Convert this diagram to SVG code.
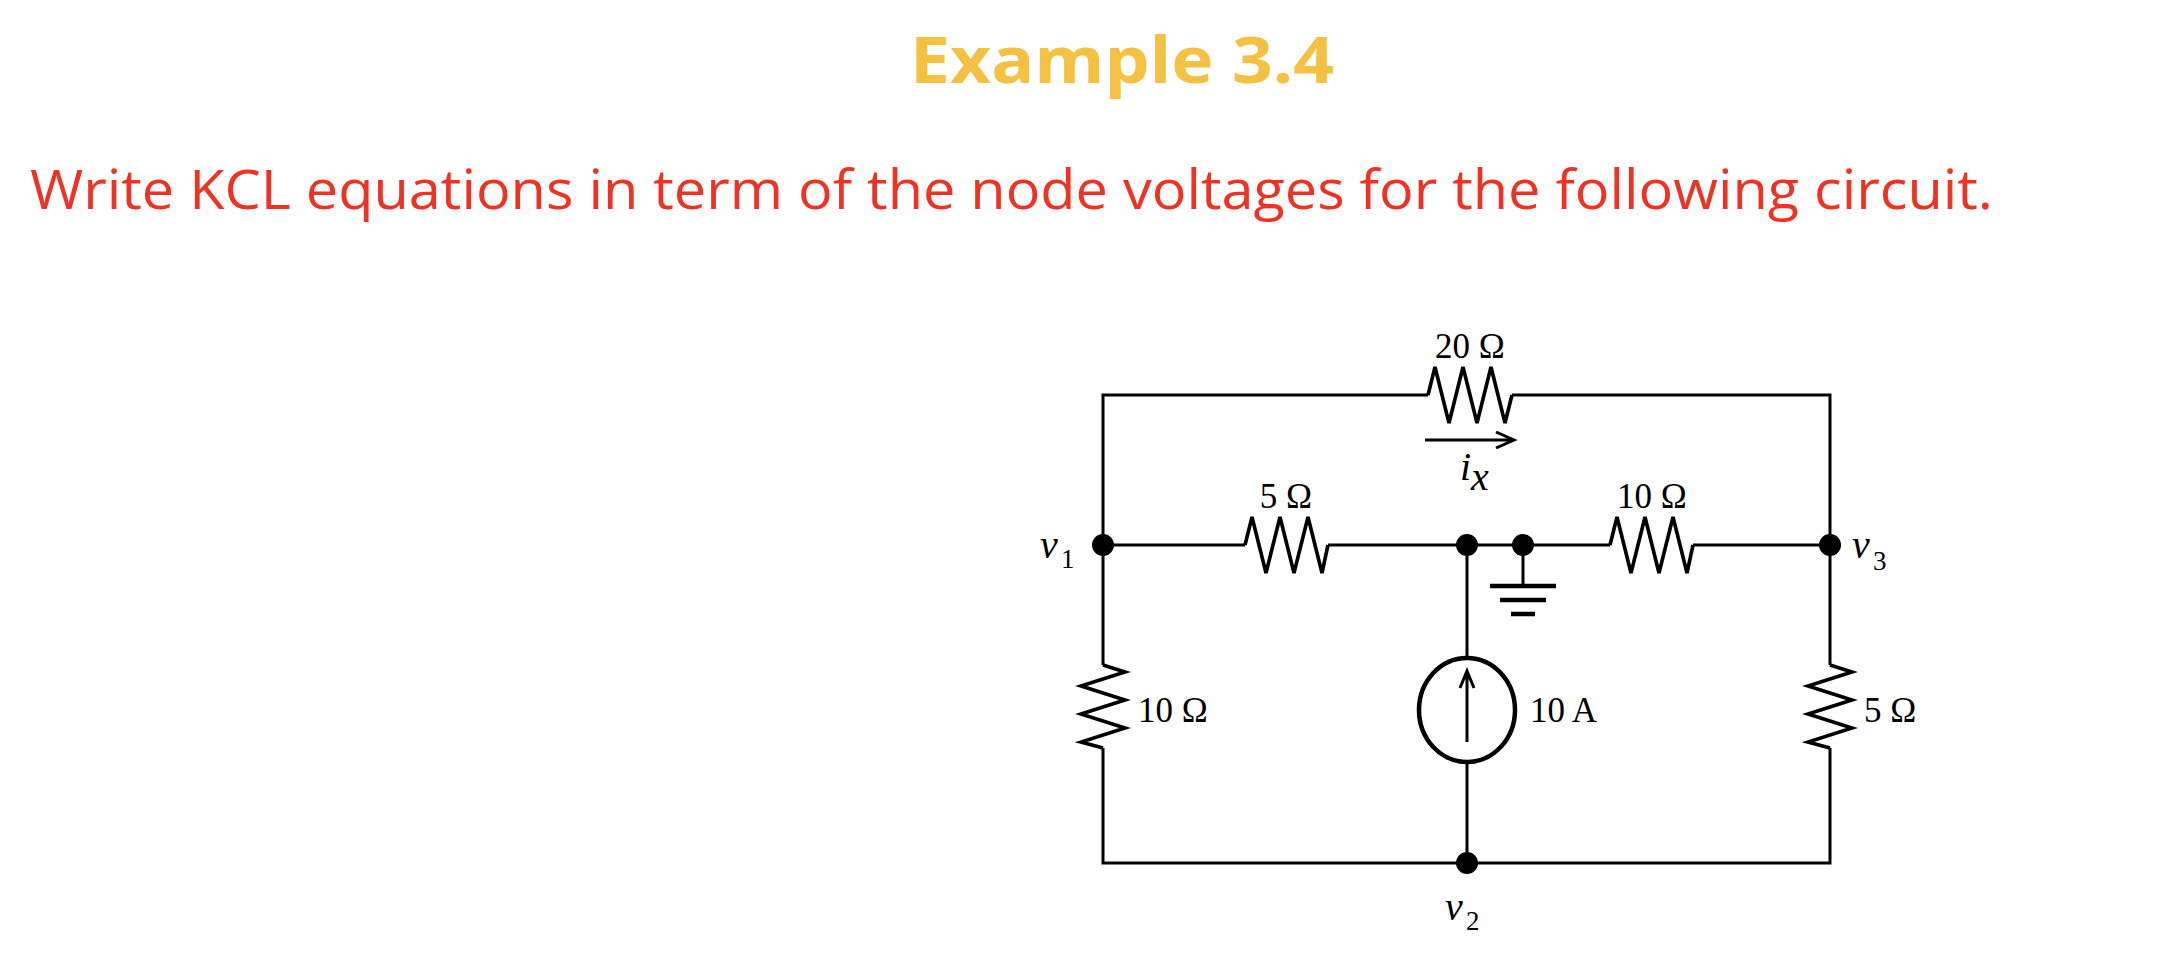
<svg xmlns="http://www.w3.org/2000/svg" width="2158" height="966" viewBox="0 0 2158 966">
<style>
.w{fill:none;stroke:#000;stroke-width:3;stroke-linejoin:miter}
.r{fill:none;stroke:#000;stroke-width:3.6;stroke-linejoin:miter}
.t{font-family:"Liberation Serif",serif;font-size:35px;fill:#000}
.v{font-family:"Liberation Serif",serif;font-size:40px;font-style:italic;fill:#000}
.s{font-family:"Liberation Serif",serif;font-size:27px;fill:#000}
</style>
<rect width="2158" height="966" fill="#fff"/>
<text x="1122" y="83" text-anchor="middle" font-family="'Open Sans',sans-serif" font-weight="bold" font-size="64" fill="#F4C142" textLength="424" lengthAdjust="spacingAndGlyphs">Example 3.4</text>
<text x="30" y="209" font-family="'Open Sans',sans-serif" font-size="54" fill="#EE3224" textLength="1963" lengthAdjust="spacingAndGlyphs">Write KCL equations in term of the node voltages for the following circuit.</text>
<g id="wires">
<path class="w" d="M1103 545V395H1428M1512 395H1830V545M1103 545H1245M1328 545H1610M1693 545H1830M1103 545V665M1103 748V863H1830V748M1830 665V545M1467 545V658M1467 762V863M1523 545V586"/>
<path class="w" d="M1425 440H1512M1496 432L1514 440L1496 448"/>
</g>
<g id="r20"><path class="r" d="M1428 395L1435 367L1449 423L1463 367L1477 423L1491 367L1505 423L1512 395"/><text class="t" x="1470" y="358" text-anchor="middle">20 Ω</text></g>
<g id="ix"><text class="v" x="1460" y="480" font-size="34">i</text><text class="v" x="1471" y="490" font-size="24">x</text></g>
<g id="r5a"><path class="r" d="M1245 545L1252 517L1266 573L1280 517L1294 573L1308 517L1322 573L1328 545"/><text class="t" x="1286" y="508" text-anchor="middle">5 Ω</text></g>
<g id="r10b"><path class="r" d="M1610 545L1617 517L1631 573L1645 517L1659 573L1673 517L1687 573L1693 545"/><text class="t" x="1652" y="508" text-anchor="middle">10 Ω</text></g>
<g id="r10a"><path class="r" d="M1103 665L1125 672L1081 686L1125 700L1081 714L1125 728L1081 742L1103 748"/><text class="t" x="1138" y="722">10 Ω</text></g>
<g id="r5b"><path class="r" d="M1830 665L1852 672L1808 686L1852 700L1808 714L1852 728L1808 742L1830 748"/><text class="t" x="1864" y="722">5 Ω</text></g>
<g id="src"><ellipse cx="1467" cy="710" rx="48" ry="52" fill="none" stroke="#000" stroke-width="4.5"/><path class="w" d="M1467 742V673M1460 688L1467 671L1474 688"/><text class="t" x="1530" y="722">10 A</text></g>
<g id="gnd"><path fill="none" stroke="#000" stroke-width="4.5" d="M1490 586H1556M1500 600H1546M1511 614H1535"/></g>
<g id="nodes" fill="#000">
<circle cx="1103" cy="545" r="11"/><circle cx="1830" cy="545" r="11"/><circle cx="1467" cy="545" r="11"/><circle cx="1523" cy="545" r="11"/><circle cx="1467" cy="863" r="11"/>
</g>
<g id="labels">
<text class="v" x="1040" y="558">v</text><text class="s" x="1061" y="568">1</text>
<text class="v" x="1852" y="558">v</text><text class="s" x="1873" y="570">3</text>
<text class="v" x="1445" y="920">v</text><text class="s" x="1466" y="930">2</text>
</g>
</svg>
